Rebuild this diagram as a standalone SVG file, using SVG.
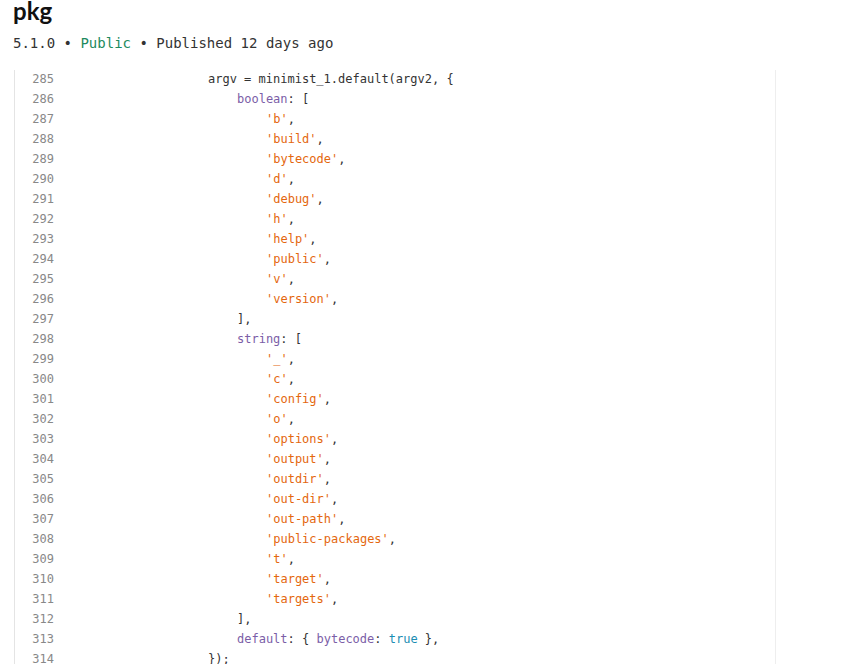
<svg xmlns="http://www.w3.org/2000/svg" width="853" height="664" viewBox="0 0 853 664">
<style>
.m{font-family:"DejaVu Sans Mono",monospace;font-size:12px;fill:#333}
.n{font-family:"DejaVu Sans Mono",monospace;font-size:12px;fill:#888;text-anchor:end}
.k{fill:#7b5ea7}.s{fill:#e4670e}.b{fill:#1b8db3}
</style>
<rect width="853" height="664" fill="#fff"/>
<text x="13" y="20" font-family="Lato,sans-serif" font-weight="bold" font-size="24" fill="#111">pkg</text>
<text x="13" y="48" font-family="DejaVu Sans Mono,monospace" font-size="14" fill="#333">5.1.0 • <tspan fill="#1e8a5e">Public</tspan> • Published 12 days ago</text>
<line x1="14.5" y1="70" x2="14.5" y2="664" stroke="#e4e4e4"/>
<line x1="775.5" y1="70" x2="775.5" y2="664" stroke="#eeeeee"/>
<g class="n">
<text x="54" y="83">285</text><text x="54" y="103">286</text><text x="54" y="123">287</text><text x="54" y="143">288</text><text x="54" y="163">289</text><text x="54" y="183">290</text><text x="54" y="203">291</text><text x="54" y="223">292</text><text x="54" y="243">293</text><text x="54" y="263">294</text><text x="54" y="283">295</text><text x="54" y="303">296</text><text x="54" y="323">297</text><text x="54" y="343">298</text><text x="54" y="363">299</text><text x="54" y="383">300</text><text x="54" y="403">301</text><text x="54" y="423">302</text><text x="54" y="443">303</text><text x="54" y="463">304</text><text x="54" y="483">305</text><text x="54" y="503">306</text><text x="54" y="523">307</text><text x="54" y="543">308</text><text x="54" y="563">309</text><text x="54" y="583">310</text><text x="54" y="603">311</text><text x="54" y="623">312</text><text x="54" y="643">313</text><text x="54" y="663">314</text>
</g>
<g class="m">
<text x="208" y="83">argv = minimist_1.default(argv2, {</text>
<text x="237" y="103"><tspan class="k">boolean</tspan>: [</text>
<text x="266" y="123"><tspan class="s">'b'</tspan>,</text>
<text x="266" y="143"><tspan class="s">'build'</tspan>,</text>
<text x="266" y="163"><tspan class="s">'bytecode'</tspan>,</text>
<text x="266" y="183"><tspan class="s">'d'</tspan>,</text>
<text x="266" y="203"><tspan class="s">'debug'</tspan>,</text>
<text x="266" y="223"><tspan class="s">'h'</tspan>,</text>
<text x="266" y="243"><tspan class="s">'help'</tspan>,</text>
<text x="266" y="263"><tspan class="s">'public'</tspan>,</text>
<text x="266" y="283"><tspan class="s">'v'</tspan>,</text>
<text x="266" y="303"><tspan class="s">'version'</tspan>,</text>
<text x="237" y="323">],</text>
<text x="237" y="343"><tspan class="k">string</tspan>: [</text>
<text x="266" y="363"><tspan class="s">'_'</tspan>,</text>
<text x="266" y="383"><tspan class="s">'c'</tspan>,</text>
<text x="266" y="403"><tspan class="s">'config'</tspan>,</text>
<text x="266" y="423"><tspan class="s">'o'</tspan>,</text>
<text x="266" y="443"><tspan class="s">'options'</tspan>,</text>
<text x="266" y="463"><tspan class="s">'output'</tspan>,</text>
<text x="266" y="483"><tspan class="s">'outdir'</tspan>,</text>
<text x="266" y="503"><tspan class="s">'out-dir'</tspan>,</text>
<text x="266" y="523"><tspan class="s">'out-path'</tspan>,</text>
<text x="266" y="543"><tspan class="s">'public-packages'</tspan>,</text>
<text x="266" y="563"><tspan class="s">'t'</tspan>,</text>
<text x="266" y="583"><tspan class="s">'target'</tspan>,</text>
<text x="266" y="603"><tspan class="s">'targets'</tspan>,</text>
<text x="237" y="623">],</text>
<text x="237" y="643"><tspan class="k">default</tspan>: { <tspan class="k">bytecode</tspan>: <tspan class="b">true</tspan> },</text>
<text x="208" y="663">});</text>
</g>
</svg>
